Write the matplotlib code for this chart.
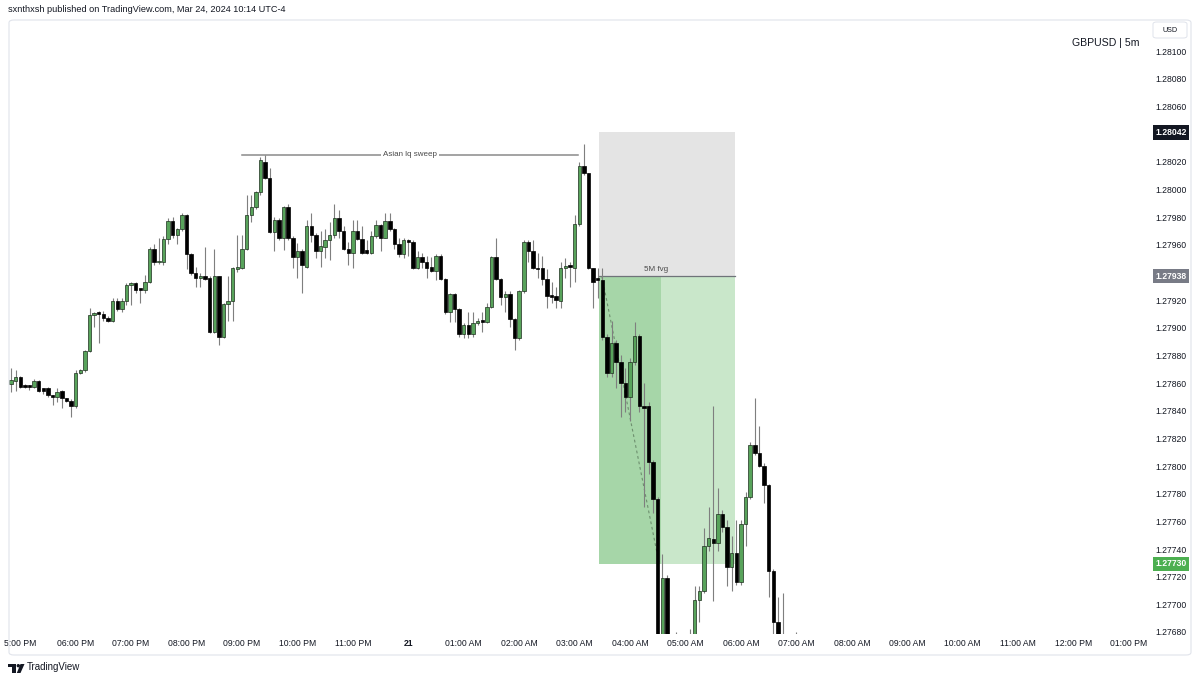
import matplotlib
matplotlib.use("Agg")
import matplotlib.pyplot as plt
import matplotlib.transforms as mtransforms
from matplotlib.patches import FancyBboxPatch, Polygon, Circle, Rectangle

plt.rcParams["font.family"] = ["Liberation Sans", "DejaVu Sans"]

# GBPUSD 5m candles, first bar = 4:50 PM (index 0)
opens = [
    1.27860, 1.27862, 1.27865, 1.27859, 1.27858, 1.27858, 1.27862, 1.27857, 1.27857, 1.27852,
    1.27851, 1.27855, 1.27850, 1.27848, 1.27844, 1.27868, 1.27870, 1.27884, 1.27910, 1.27911,
    1.27911, 1.27908, 1.27906, 1.27920, 1.27914, 1.27920, 1.27932, 1.27933, 1.27928, 1.27928,
    1.27934, 1.27958, 1.27948, 1.27948, 1.27965, 1.27978, 1.27968, 1.27972, 1.27982, 1.27954,
    1.27940, 1.27937, 1.27938, 1.27937, 1.27898, 1.27938, 1.27894, 1.27918, 1.27920, 1.27943,
    1.27944, 1.27958, 1.27982, 1.27988, 1.27999, 1.28021, 1.28009, 1.27970, 1.27979, 1.27966,
    1.27988, 1.27966, 1.27952, 1.27956, 1.27945, 1.27974, 1.27968, 1.27956, 1.27959, 1.27964,
    1.27968, 1.27980, 1.27971, 1.27958, 1.27955, 1.27971, 1.27965, 1.27957, 1.27955, 1.27967,
    1.27975, 1.27966, 1.27978, 1.27972, 1.27961, 1.27954, 1.27964, 1.27963, 1.27944, 1.27952,
    1.27948, 1.27945, 1.27942, 1.27953, 1.27936, 1.27912, 1.27925, 1.27914, 1.27896, 1.27903,
    1.27896, 1.27904, 1.27906, 1.27905, 1.27916, 1.27952, 1.27936, 1.27923, 1.27925, 1.27907,
    1.27893, 1.27927, 1.27963, 1.27956, 1.27944, 1.27944, 1.27936, 1.27924, 1.27924, 1.27920,
    1.27944, 1.27945, 1.27944, 1.27976, 1.28018, 1.28013, 1.27944, 1.27937, 1.27935, 1.27894,
    1.27868, 1.27890, 1.27876, 1.27861, 1.27851, 1.27876, 1.27895, 1.27844, 1.27844, 1.27804,
    1.27777, 1.27662, 1.27720, 1.27662, 1.27658, 1.27668, 1.27660, 1.27670, 1.27675, 1.27704,
    1.27710, 1.27743, 1.27748, 1.27745, 1.27766, 1.27757, 1.27728, 1.27738, 1.27717, 1.27759,
    1.27778, 1.27816, 1.27810, 1.27801, 1.27787, 1.27725, 1.27688, 1.27672, 1.27676, 1.27665,
    1.27668,
]
highs = [
    1.27872, 1.27870, 1.27866, 1.27860, 1.27859, 1.27864, 1.27863, 1.27857, 1.27858, 1.27852,
    1.27857, 1.27856, 1.27850, 1.27849, 1.27870, 1.27871, 1.27885, 1.27915, 1.27912, 1.27913,
    1.27913, 1.27909, 1.27922, 1.27922, 1.27922, 1.27933, 1.27934, 1.27934, 1.27929, 1.27939,
    1.27959, 1.27961, 1.27966, 1.27967, 1.27980, 1.27981, 1.27973, 1.27984, 1.27983, 1.27955,
    1.27945, 1.27940, 1.27959, 1.27938, 1.27958, 1.27938, 1.27919, 1.27938, 1.27945, 1.27968,
    1.27968, 1.27997, 1.27997, 1.28000, 1.28024, 1.28026, 1.28016, 1.27981, 1.27980, 1.27989,
    1.27990, 1.27967, 1.27962, 1.27958, 1.27979, 1.27984, 1.27969, 1.27971, 1.27972, 1.27977,
    1.27990, 1.27986, 1.27974, 1.27963, 1.27979, 1.27979, 1.27974, 1.27964, 1.27971, 1.27979,
    1.27976, 1.27984, 1.27984, 1.27973, 1.27966, 1.27966, 1.27965, 1.27964, 1.27956, 1.27955,
    1.27953, 1.27952, 1.27954, 1.27954, 1.27937, 1.27926, 1.27926, 1.27915, 1.27904, 1.27912,
    1.27912, 1.27908, 1.27912, 1.27919, 1.27953, 1.27966, 1.27937, 1.27927, 1.27927, 1.27908,
    1.27928, 1.27964, 1.27964, 1.27964, 1.27955, 1.27953, 1.27943, 1.27934, 1.27930, 1.27948,
    1.27951, 1.27948, 1.27982, 1.28021, 1.28034, 1.28013, 1.27944, 1.27944, 1.27944, 1.27896,
    1.27906, 1.27892, 1.27881, 1.27872, 1.27879, 1.27905, 1.27896, 1.27861, 1.27847, 1.27805,
    1.27778, 1.27737, 1.27722, 1.27675, 1.27681, 1.27676, 1.27674, 1.27683, 1.27714, 1.27714,
    1.27756, 1.27771, 1.27844, 1.27785, 1.27769, 1.27762, 1.27750, 1.27762, 1.27762, 1.27782,
    1.27818, 1.27850, 1.27830, 1.27803, 1.27788, 1.27726, 1.27706, 1.27709, 1.27678, 1.27675,
    1.27681,
]
lows = [
    1.27854, 1.27855, 1.27857, 1.27857, 1.27856, 1.27857, 1.27854, 1.27853, 1.27851, 1.27845,
    1.27847, 1.27843, 1.27847, 1.27836, 1.27843, 1.27867, 1.27869, 1.27883, 1.27901, 1.27890,
    1.27906, 1.27905, 1.27905, 1.27913, 1.27912, 1.27917, 1.27917, 1.27926, 1.27919, 1.27926,
    1.27933, 1.27946, 1.27947, 1.27946, 1.27961, 1.27966, 1.27961, 1.27971, 1.27943, 1.27939,
    1.27930, 1.27930, 1.27935, 1.27897, 1.27897, 1.27888, 1.27893, 1.27906, 1.27906, 1.27941,
    1.27943, 1.27957, 1.27977, 1.27987, 1.27997, 1.28008, 1.27969, 1.27956, 1.27964, 1.27957,
    1.27964, 1.27944, 1.27937, 1.27926, 1.27944, 1.27963, 1.27951, 1.27945, 1.27951, 1.27950,
    1.27966, 1.27966, 1.27957, 1.27946, 1.27944, 1.27964, 1.27954, 1.27954, 1.27954, 1.27966,
    1.27956, 1.27966, 1.27971, 1.27958, 1.27952, 1.27951, 1.27953, 1.27943, 1.27943, 1.27944,
    1.27937, 1.27941, 1.27935, 1.27935, 1.27911, 1.27905, 1.27905, 1.27894, 1.27893, 1.27893,
    1.27894, 1.27903, 1.27898, 1.27904, 1.27915, 1.27935, 1.27917, 1.27912, 1.27901, 1.27885,
    1.27892, 1.27926, 1.27948, 1.27943, 1.27937, 1.27932, 1.27915, 1.27919, 1.27915, 1.27915,
    1.27937, 1.27930, 1.27934, 1.27974, 1.28011, 1.27943, 1.27915, 1.27922, 1.27892, 1.27865,
    1.27865, 1.27857, 1.27836, 1.27840, 1.27833, 1.27874, 1.27840, 1.27771, 1.27795, 1.27767,
    1.27652, 1.27655, 1.27650, 1.27648, 1.27650, 1.27655, 1.27652, 1.27660, 1.27668, 1.27688,
    1.27709, 1.27739, 1.27703, 1.27739, 1.27753, 1.27714, 1.27710, 1.27715, 1.27715, 1.27743,
    1.27777, 1.27809, 1.27800, 1.27774, 1.27706, 1.27670, 1.27660, 1.27662, 1.27660, 1.27655,
    1.27660,
]
closes = [
    1.27863, 1.27865, 1.27858, 1.27858, 1.27858, 1.27862, 1.27855, 1.27855, 1.27852, 1.27851,
    1.27854, 1.27850, 1.27848, 1.27844, 1.27868, 1.27870, 1.27884, 1.27910, 1.27911, 1.27911,
    1.27908, 1.27906, 1.27920, 1.27914, 1.27920, 1.27932, 1.27933, 1.27928, 1.27928, 1.27934,
    1.27958, 1.27948, 1.27949, 1.27965, 1.27978, 1.27968, 1.27972, 1.27982, 1.27954, 1.27940,
    1.27937, 1.27938, 1.27936, 1.27898, 1.27938, 1.27894, 1.27918, 1.27920, 1.27944, 1.27945,
    1.27958, 1.27982, 1.27988, 1.27999, 1.28022, 1.28009, 1.27970, 1.27979, 1.27966, 1.27988,
    1.27966, 1.27952, 1.27956, 1.27946, 1.27974, 1.27968, 1.27956, 1.27960, 1.27964, 1.27968,
    1.27980, 1.27971, 1.27958, 1.27955, 1.27971, 1.27965, 1.27955, 1.27955, 1.27967, 1.27975,
    1.27966, 1.27978, 1.27972, 1.27961, 1.27954, 1.27964, 1.27963, 1.27944, 1.27952, 1.27948,
    1.27944, 1.27942, 1.27953, 1.27936, 1.27912, 1.27925, 1.27914, 1.27896, 1.27903, 1.27896,
    1.27904, 1.27906, 1.27905, 1.27916, 1.27952, 1.27936, 1.27923, 1.27925, 1.27907, 1.27893,
    1.27927, 1.27963, 1.27956, 1.27944, 1.27943, 1.27936, 1.27924, 1.27923, 1.27921, 1.27944,
    1.27945, 1.27945, 1.27976, 1.28018, 1.28013, 1.27944, 1.27934, 1.27935, 1.27894, 1.27868,
    1.27890, 1.27876, 1.27861, 1.27851, 1.27876, 1.27895, 1.27844, 1.27843, 1.27804, 1.27777,
    1.27660, 1.27720, 1.27662, 1.27658, 1.27668, 1.27660, 1.27670, 1.27675, 1.27704, 1.27710,
    1.27743, 1.27749, 1.27745, 1.27766, 1.27757, 1.27728, 1.27738, 1.27717, 1.27759, 1.27778,
    1.27816, 1.27810, 1.27801, 1.27787, 1.27725, 1.27688, 1.27672, 1.27676, 1.27665, 1.27668,
    1.27672,
]

time_labels = ["5:00 PM", "06:00 PM", "07:00 PM", "08:00 PM", "09:00 PM", "10:00 PM",
               "11:00 PM", "21", "01:00 AM", "02:00 AM", "03:00 AM", "04:00 AM",
               "05:00 AM", "06:00 AM", "07:00 AM", "08:00 AM", "09:00 AM", "10:00 AM",
               "11:00 AM", "12:00 PM", "01:00 PM"]
price_ticks = [1.28100, 1.28080, 1.28060, 1.28020, 1.28000, 1.27980, 1.27960,
               1.27920, 1.27900, 1.27880, 1.27860, 1.27840, 1.27820, 1.27800,
               1.27780, 1.27760, 1.27740, 1.27720, 1.27700, 1.27680]

# position tool (short) and annotations
stop_price = 1.28042
entry_price = 1.27938
target_price = 1.27730
sweep_price = 1.28026

GREEN = "#58a35b"
WICK = "#7f7f7f"
TEXT = "#131722"

fig = plt.figure(figsize=(12, 6.81), dpi=100)
ax = fig.add_axes([9 / 1200, 47 / 681, 1135 / 1200, 613 / 681])
ax.set_xlim(-0.43, 245.24)
ax.set_ylim(1.2767926, 1.2812262)
for s in ax.spines.values():
    s.set_visible(False)
ax.set_xticks([])
ax.set_yticks([])

# position tool boxes
ax.add_patch(Rectangle((127.2, entry_price), 156.7 - 127.2, stop_price - entry_price,
                       facecolor="#e4e4e4", edgecolor="none", zorder=0))
ax.add_patch(Rectangle((127.2, target_price), 140.6 - 127.2, entry_price - target_price,
                       facecolor="#a6d6a8", edgecolor="none", zorder=0))
ax.add_patch(Rectangle((140.6, target_price), 156.7 - 140.6, entry_price - target_price,
                       facecolor="#c9e7ca", edgecolor="none", zorder=0))
ax.plot([127.2, 156.7], [entry_price, entry_price], color="#6f7379", lw=0.9, zorder=1)
ax.plot([127.9, 140.3], [entry_price, target_price], color="#6d8f6e", lw=0.8,
        ls=(0, (2.5, 2.5)), zorder=1)
ax.text(139.6, entry_price + 0.00002, "5M fvg", fontsize=5.8, color="#4a4a4a",
        ha="center", va="bottom", zorder=2)

# Asian liquidity sweep line
ax.plot([50, 122.8], [sweep_price, sweep_price], color="#8a8a8a", lw=1.1, zorder=1)
ax.text(86.3, sweep_price, "Asian lq sweep", fontsize=5.8, color="#4a4a4a",
        ha="center", va="center", zorder=2,
        bbox=dict(boxstyle="square,pad=0.25", fc="white", ec="none"))

# candles
idx = list(range(len(opens)))
ax.vlines(idx, lows, highs, color=WICK, lw=0.8, zorder=3)
for i in idx:
    o, c = opens[i], closes[i]
    up = c > o
    bottom = min(o, c)
    h = max(abs(c - o), 0.000012)
    ax.bar(i, h, bottom=bottom, width=0.74,
           color=GREEN if up else "#000000",
           edgecolor="#1d2e1e" if up else "#000000", linewidth=0.5, zorder=4)

# price scale
blend_y = mtransforms.blended_transform_factory(ax.transAxes, ax.transData)
xlab = 1 + 27 / 1135
for p in price_ticks:
    ax.text(xlab, p, f"{p:.5f}", transform=blend_y, fontsize=6.2, color=TEXT,
            ha="center", va="center", clip_on=False)
for p, fc in [(stop_price, "#131722"), (entry_price, "#787b86"), (target_price, "#4caf50")]:
    ax.text(xlab, p, f"{p:.5f}", transform=blend_y, fontsize=6.2, color="white",
            ha="center", va="center", clip_on=False, fontweight="bold",
            bbox=dict(boxstyle="square,pad=0.3", fc=fc, ec="none"))

# time scale
blend_x = mtransforms.blended_transform_factory(ax.transData, ax.transAxes)
for k, lab in enumerate(time_labels):
    ax.text(2 + 12 * k, -10 / 613, lab, transform=blend_x, fontsize=6.2,
            color=TEXT, ha="center", va="center", clip_on=False,
            fontweight="bold" if lab == "21" else "normal")

# frame and header
fig.add_artist(FancyBboxPatch((9 / 1200, 26 / 681), 1182 / 1200, 635 / 681,
                              boxstyle="round,pad=0,rounding_size=0.004",
                              transform=fig.transFigure, fc="none",
                              ec="#e0e3eb", lw=0.8))
fig.add_artist(FancyBboxPatch((1153 / 1200, 643 / 681), 34 / 1200, 16 / 681,
                              boxstyle="round,pad=0,rounding_size=0.003",
                              transform=fig.transFigure, fc="white",
                              ec="#e0e3eb", lw=0.7))
fig.text(1170 / 1200, 1 - 31 / 681, "USD", fontsize=5.2, color=TEXT,
         ha="center", va="center")
fig.text(8 / 1200, 1 - 9 / 681,
         "sxnthxsh published on TradingView.com, Mar 24, 2024 10:14 UTC-4",
         fontsize=6.6, color=TEXT, ha="left", va="center")
fig.text(1140 / 1200, 1 - 43 / 681, "GBPUSD | 5m", fontsize=7.6, color=TEXT,
         ha="right", va="center")

# TradingView logo
ident = mtransforms.IdentityTransform()
fig.add_artist(Polygon([(8, 17), (16, 17), (16, 8), (12, 8), (12, 14), (8, 14)],
                       closed=True, transform=ident, fc="#131722", ec="none"))
fig.add_artist(Circle((18.3, 15.3), 1.7, transform=ident, fc="#131722", ec="none"))
fig.add_artist(Polygon([(20.5, 17), (24.5, 17), (20.5, 8), (16.8, 8)],
                       closed=True, transform=ident, fc="#131722", ec="none"))
fig.text(27 / 1200, 14 / 681, "TradingView", fontsize=7, color=TEXT,
         ha="left", va="center")

fig.savefig("out.png", dpi=100, facecolor="white")
